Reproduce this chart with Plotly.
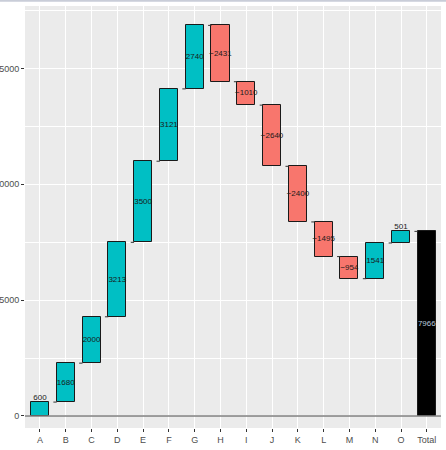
import numpy as np
import plotly.graph_objects as go

# --- data ---
categories = ["A", "B", "C", "D", "E", "F", "G", "H", "I", "J", "K", "L", "M", "N", "O", "Total"]
values = [600, 1680, 2000, 3213, 3500, 3121, 2740, -2431, -1010, -2640, -2400, -1495, -954, 1541, 501]
total_value = 7966

y_ticks = [0, 5000, 10000, 15000]
y_ticktext = ["0", "5000", "10000", "15000"]

# --- derived waterfall geometry ---
vals = np.array(values)
cum = np.cumsum(vals)
starts = np.concatenate([[0], cum[:-1]])
x_pos = np.arange(len(categories))

bases = list(np.minimum(starts, cum)) + [0]
heights = list(np.abs(vals)) + [total_value]
colors = ["#00BFC4" if v > 0 else "#F8766D" for v in values] + ["#000000"]
tops = [b + h for b, h in zip(bases, heights)]

fig = go.Figure()

fig.add_trace(go.Bar(
    x=x_pos, y=heights, base=bases,
    width=0.7,
    marker=dict(color=colors, line=dict(color="#1a1a1a", width=1)),
    hoverinfo="skip",
    showlegend=False,
))

# short connectors just left of each following bar
cx, cy = [], []
levels = list(cum)
for i in range(1, len(categories)):
    lvl = levels[i - 1]
    cx += [i - 0.48, i - 0.35, None]
    cy += [lvl, lvl, None]
fig.add_trace(go.Scatter(
    x=cx, y=cy, mode="lines",
    line=dict(color="#333333", width=1),
    hoverinfo="skip", showlegend=False,
))

# value labels
all_vals = values + [total_value]
labels = [str(v).replace("-", "\u2212") for v in all_vals]
inside_x, inside_y, inside_t, inside_c = [], [], [], []
above_x, above_y, above_t = [], [], []
for i, v in enumerate(all_vals):
    if abs(v) < 700:
        above_x.append(i)
        above_y.append(tops[i])
        above_t.append(labels[i])
    else:
        inside_x.append(i)
        inside_y.append(bases[i] + heights[i] / 2)
        inside_t.append(labels[i])
        inside_c.append("#B8C8DC" if i == len(all_vals) - 1 else "#1a1a1a")

fig.add_trace(go.Scatter(
    x=inside_x, y=inside_y, mode="text", text=inside_t,
    textfont=dict(size=8, color=inside_c, family="Liberation Sans, Arial"),
    hoverinfo="skip", showlegend=False,
))
fig.add_trace(go.Scatter(
    x=above_x, y=above_y, mode="text", text=above_t,
    textposition="top center",
    textfont=dict(size=8, color="#1a1a1a", family="Liberation Sans, Arial"),
    hoverinfo="skip", showlegend=False,
))

fig.update_layout(
    width=446, height=450,
    template="none",
    paper_bgcolor="white",
    plot_bgcolor="#EBEBEB",
    margin=dict(l=25, r=5, t=6, b=22),
    font=dict(family="Liberation Sans, Arial", size=9, color="#4D4D4D"),
    bargap=0,
    shapes=[
        dict(type="line", xref="paper", yref="y", x0=0, x1=1, y0=0, y1=0,
             line=dict(color="#7F7F7F", width=1.5), layer="above"),
        dict(type="rect", xref="paper", yref="paper",
             x0=-25 / 416, x1=1 + 5 / 416, y0=1 + 4.3 / 422, y1=1 + 6 / 422,
             line=dict(width=0), fillcolor="#C9CDD8"),
    ],
)

fig.update_xaxes(
    range=[-0.58, 15.55],
    tickmode="array", tickvals=list(x_pos), ticktext=categories,
    showgrid=True, gridcolor="white", gridwidth=1,
    ticks="outside", ticklen=3, tickcolor="#333333", tickwidth=1,
    tickfont=dict(size=9, color="#4D4D4D"),
    zeroline=False, showline=False, automargin=False,
)
fig.update_yaxes(
    range=[-518, 17690],
    tickmode="array", tickvals=y_ticks, ticktext=y_ticktext,
    showgrid=True, gridcolor="white", gridwidth=1,
    minor=dict(tickmode="array", tickvals=[2500, 7500, 12500, 17500],
               showgrid=True, gridcolor="white", gridwidth=0.5, ticks=""),
    ticks="outside", ticklen=3, tickcolor="#333333", tickwidth=1,
    tickfont=dict(size=9, color="#4D4D4D"),
    zeroline=False, showline=False, automargin=False,
)

# drop the browser's default page margin so the 446x450 figure fills the window
fig.write_html("out.html", config={"displayModeBar": False},
               post_script="document.body.style.margin='0';")
